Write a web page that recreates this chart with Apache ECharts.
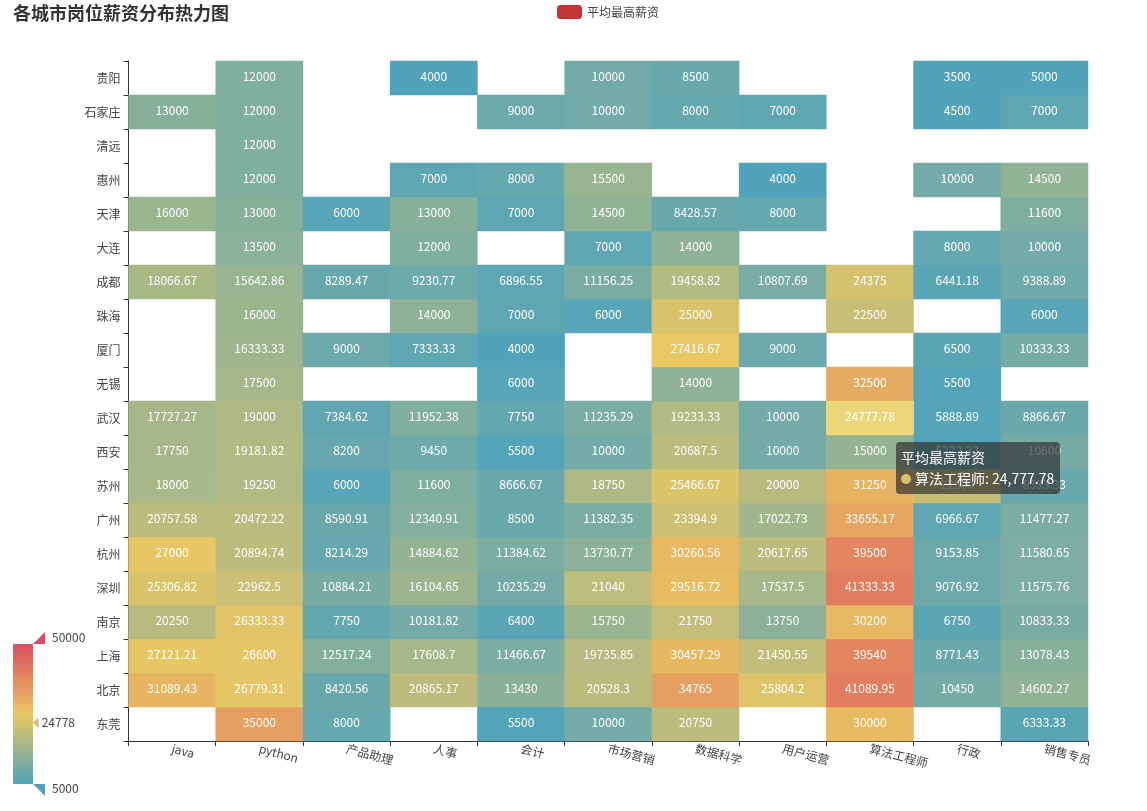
<!DOCTYPE html>
<html>
<head>
<meta charset="utf-8">
<title>各城市岗位薪资分布热力图</title>
<script src="https://cdn.jsdelivr.net/npm/echarts@6/dist/echarts.min.js"></script>
<style>
html, body { margin: 0; padding: 0; background: #fff; }
#main { width: 1147px; height: 811px; }
</style>
</head>
<body>
<div id="main"></div>
<script>
var chartDom = document.getElementById('main');
var myChart = echarts.init(chartDom);
var fontName = '"Noto Sans CJK SC", "Noto Sans", sans-serif';

var jobs = ['java', 'python', '产品助理', '人事', '会计', '市场营销', '数据科学', '用户运营', '算法工程师', '行政', '销售专员'];
// bottom to top, same order as the y axis
var cities = ['东莞', '北京', '上海', '南京', '深圳', '杭州', '广州', '苏州', '西安', '武汉', '无锡', '厦门', '珠海', '成都', '大连', '天津', '惠州', '清远', '石家庄', '贵阳'];

var dongguan = [null, 35000, 8000, null, 5500, 10000, 20750, null, 30000, null, 6333.33];
var beijing = [31089.43, 26779.31, 8420.56, 20865.17, 13430, 20528.3, 34765, 25804.2, 41089.95, 10450, 14602.27];
var shanghai = [27121.21, 26600, 12517.24, 17608.7, 11466.67, 19735.85, 30457.29, 21450.55, 39540, 8771.43, 13078.43];
var nanjing = [20250, 26333.33, 7750, 10181.82, 6400, 15750, 21750, 13750, 30200, 6750, 10833.33];
var shenzhen = [25306.82, 22962.5, 10884.21, 16104.65, 10235.29, 21040, 29516.72, 17537.5, 41333.33, 9076.92, 11575.76];
var hangzhou = [27000, 20894.74, 8214.29, 14884.62, 11384.62, 13730.77, 30260.56, 20617.65, 39500, 9153.85, 11580.65];
var guangzhou = [20757.58, 20472.22, 8590.91, 12340.91, 8500, 11382.35, 23394.9, 17022.73, 33655.17, 6966.67, 11477.27];
var suzhou = [18000, 19250, 6000, 11600, 8666.67, 18750, 25466.67, 20000, 31250, 22500, 8333.33];
var xian = [17750, 19181.82, 8200, 9450, 5500, 10000, 20687.5, 10000, 15000, 5222.22, 10600];
var wuhan = [17727.27, 19000, 7384.62, 11952.38, 7750, 11235.29, 19233.33, 10000, 24777.78, 5888.89, 8866.67];
var wuxi = [null, 17500, null, null, 6000, null, 14000, null, 32500, 5500, null];
var xiamen = [null, 16333.33, 9000, 7333.33, 4000, null, 27416.67, 9000, null, 6500, 10333.33];
var zhuhai = [null, 16000, null, 14000, 7000, 6000, 25000, null, 22500, null, 6000];
var chengdu = [18066.67, 15642.86, 8289.47, 9230.77, 6896.55, 11156.25, 19458.82, 10807.69, 24375, 6441.18, 9388.89];
var dalian = [null, 13500, null, 12000, null, 7000, 14000, null, null, 8000, 10000];
var tianjin = [16000, 13000, 6000, 13000, 7000, 14500, 8428.57, 8000, null, null, 11600];
var huizhou = [null, 12000, null, 7000, 8000, 15500, null, 4000, null, 10000, 14500];
var qingyuan = [null, 12000, null, null, null, null, null, null, null, null, null];
var shijiazhuang = [13000, 12000, null, null, 9000, 10000, 8000, 7000, null, 4500, 7000];
var guiyang = [null, 12000, null, 4000, null, 10000, 8500, null, null, 3500, 5000];

var rows = [dongguan, beijing, shanghai, nanjing, shenzhen, hangzhou, guangzhou, suzhou, xian, wuhan, wuxi, xiamen, zhuhai, chengdu, dalian, tianjin, huizhou, qingyuan, shijiazhuang, guiyang];

var scaleColors = ['#50a3ba', '#eac763', '#d94e5d'];

var cells = [];
rows.forEach(function (row, y) {
    row.forEach(function (v, x) {
        if (v !== null) cells.push([x, y, v]);
    });
});

var option = {
    animation: false,
    color: ['#c23531'],
    textStyle: { fontFamily: fontName },
    title: {
        text: '各城市岗位薪资分布热力图',
        left: 8,
        top: -1,
        textStyle: { fontSize: 18, fontWeight: 'bold', color: '#333', fontFamily: fontName }
    },
    legend: {
        data: ['平均最高薪资'],
        left: 552,
        top: 0,
        itemWidth: 25,
        itemHeight: 14,
        itemGap: 5,
        textStyle: { fontSize: 12, color: '#444', fontFamily: fontName }
    },
    tooltip: {
        show: true,
        trigger: 'item',
        backgroundColor: 'rgba(50,50,50,0.7)',
        borderWidth: 0,
        padding: [5, 6, 5, 5],
        extraCssText: 'box-shadow:none;border-radius:4px;',
        transitionDuration: 0,
        textStyle: { color: '#fff', fontSize: 14, fontFamily: fontName },
        formatter: function (p) {
            return p.seriesName + '<br/>' + p.marker + p.name + ': ' + p.value[2].toLocaleString('en-US');
        }
    },
    grid: { left: 128.5, right: 59, top: 61, bottom: 70, containLabel: false },
    xAxis: {
        type: 'category',
        data: jobs,
        splitLine: { show: false },
        splitArea: { show: false },
        axisLine: { show: true, lineStyle: { color: '#333' } },
        axisTick: { show: true, lineStyle: { color: '#333' } },
        axisLabel: { interval: 0, rotate: -15, margin: 7, color: '#444', fontSize: 12, fontFamily: fontName }
    },
    yAxis: {
        type: 'category',
        data: cities,
        splitLine: { show: false },
        splitArea: { show: false },
        axisLine: { show: true, lineStyle: { color: '#333' } },
        axisTick: { show: true, lineStyle: { color: '#333' } },
        axisLabel: { interval: 0, margin: 8, padding: [0, 0, 5, 0], color: '#444', fontSize: 12, fontFamily: fontName }
    },
    visualMap: {
        type: 'continuous',
        min: 5000,
        max: 50000,
        calculable: false,
        orient: 'vertical',
        left: -2,
        bottom: 12,
        itemWidth: 20,
        itemHeight: 140,
        indicatorSize: 30,
        indicatorIcon: 'path://M-15,0L-15,0M10,0L15,-5L15,5Z',
        indicatorStyle: { borderWidth: 0, shadowBlur: 0 },
        // small gap between the indicator and its value
        formatter: function (v) { return ' ' + Math.round(v); },
        inRange: { color: scaleColors },
        textStyle: { color: '#444', fontSize: 12, fontFamily: fontName }
    },
    graphic: [
        // square backing for the bar, echarts 6 rounds its corners
        {
            type: 'rect', silent: true, z: -1,
            shape: { x: 13, y: 644, width: 20, height: 140 },
            style: {
                fill: new echarts.graphic.LinearGradient(0, 0, 0, 1, [
                    { offset: 0, color: scaleColors[2] },
                    { offset: 0.5, color: scaleColors[1] },
                    { offset: 1, color: scaleColors[0] }
                ])
            }
        },
        // visualMap end handles and their labels, beside the bar as in the reference
        { type: 'polygon', shape: { points: [[33, 644], [45, 632], [45, 644]] }, style: { fill: scaleColors[2] }, silent: true },
        { type: 'polygon', shape: { points: [[33, 784], [45, 796], [45, 784]] }, style: { fill: scaleColors[0] }, silent: true },
        { type: 'text', x: 52, y: 637, silent: true, style: { text: '50000', fill: '#444', font: '12px ' + fontName, verticalAlign: 'middle' } },
        { type: 'text', x: 52, y: 788, silent: true, style: { text: '5000', fill: '#444', font: '12px ' + fontName, verticalAlign: 'middle' } }
    ],
    series: [{
        name: '平均最高薪资',
        type: 'heatmap',
        data: cells,
        label: { show: true, color: '#fff', fontSize: 12, fontFamily: fontName, offset: [0, -2] },
        itemStyle: { borderWidth: 0 }
    }]
};

myChart.setOption(option);

// hover the 武汉 / 算法工程师 cell, like the reference
setTimeout(function () {
    var root = myChart.getZr().painter.getViewportRoot();
    var box = root.getBoundingClientRect();
    root.dispatchEvent(new MouseEvent('mousemove', {
        bubbles: true, clientX: box.left + 876, clientY: box.top + 422
    }));
}, 100);
</script>
</body>
</html>
